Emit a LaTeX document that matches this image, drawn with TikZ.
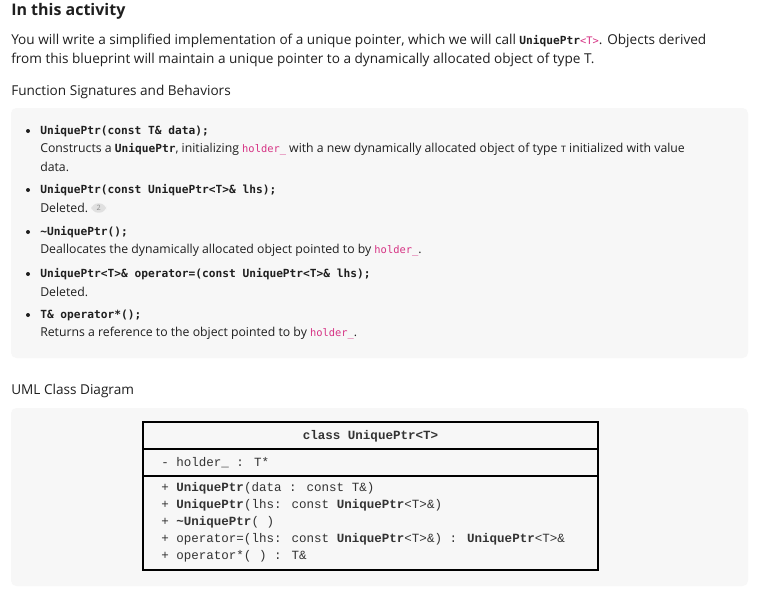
\documentclass[tikz,border=0pt]{standalone}
\usepackage{fontspec}
\setmainfont{Open Sans}
\setmonofont{DejaVu Sans Mono}
\newfontfamily\umlfont{Liberation Mono}
\usetikzlibrary{positioning}
\definecolor{panelgray}{HTML}{F7F7F7}
\definecolor{codepink}{HTML}{D63384}
\definecolor{textdark}{HTML}{1F1F1F}
\newcommand{\cb}[1]{{\ttfamily\bfseries\fontsize{8.4}{10}\selectfont #1}}
\newcommand{\cp}[1]{{\ttfamily\color{codepink}\fontsize{7.8}{9}\selectfont #1}}
\tikzset{
  txt/.style={anchor=west, inner sep=0pt, text=textdark, font=\fontsize{10.2}{12}\selectfont},
  itm/.style={anchor=west, inner sep=0pt, text=textdark, font=\fontsize{9.2}{11}\selectfont},
  uml/.style={anchor=west, inner sep=0pt, text=black!80, font=\umlfont\fontsize{9.4}{11}\selectfont},
  panel/.style={fill=panelgray, draw=none, rounded corners=4pt},
  bullet/.style={circle, fill=textdark, inner sep=0pt, minimum size=3pt}
}
\begin{document}
\begin{tikzpicture}[x=0.75pt, y=-0.75pt]
    \useasboundingbox[fill=white] (0,0) rectangle (774,597);

    % Titles and intro
    \node[txt, font=\bfseries\fontsize{12}{14}\selectfont] (title) at (11,11) {In this activity};
    \node[txt] (intro1) at (11,41) {You will write a simplified implementation of a unique pointer, which we will call \cb{UniquePtr}\cp{<T>}. Objects derived};
    \node[txt] (intro2) at (11,60) {from this blueprint will maintain a unique pointer to a dynamically allocated object of type T.};
    \node[txt] (sigs) at (11,92) {Function Signatures and Behaviors};

    % Panel of signatures
    \fill[panel] (11,108) rectangle (748,358);
    \foreach \y in {131,190,232,274,315}
        \node[bullet] at (28,\y) {};
    \node[itm] (s1) at (40,131) {\cb{UniquePtr(const T\& data);}};
    \node[itm] (d1) at (40,149) {Constructs a \cb{UniquePtr}, initializing \cp{holder\_} with a new dynamically allocated object of type {\ttfamily\fontsize{6.5}{8}\selectfont T} initialized with value};
    \node[itm] (d1b) at (40,167) {data.};
    \node[itm] (s2) at (40,190) {\cb{UniquePtr(const UniquePtr<T>\& lhs);}};
    \node[itm] (d2) at (40,208) {Deleted.};
    \node[fill=black!12, rounded corners=5pt, inner xsep=4pt, inner ysep=1.5pt, text=black!45,
          font=\fontsize{5.5}{6}\selectfont, right=2pt of d2] (badge) {2};
    \node[itm] (s3) at (40,232) {\cb{\textasciitilde UniquePtr();}};
    \node[itm] (d3) at (40,250) {Deallocates the dynamically allocated object pointed to by \cp{holder\_}.};
    \node[itm] (s4) at (40,274) {\cb{UniquePtr<T>\& operator=(const UniquePtr<T>\& lhs);}};
    \node[itm] (d4) at (40,292) {Deleted.};
    \node[itm] (s5) at (40,315) {\cb{T\& operator*();}};
    \node[itm] (d5) at (40,333) {Returns a reference to the object pointed to by \cp{holder\_}.};

    % UML panel
    \node[txt] (umltitle) at (11,391) {UML Class Diagram};
    \fill[panel] (11,408) rectangle (748,586);
    \draw[black, line width=0.8pt] (143,422) rectangle (598,570);
    \draw[black, line width=0.8pt] (143,449) -- (598,449);
    \draw[black, line width=0.8pt] (143,476) -- (598,476);
    \node[uml, anchor=center, font=\umlfont\bfseries\fontsize{9.4}{11}\selectfont] (cls) at (370.5,436) {class UniquePtr<T>};
    \node[uml] (attr) at (161,463) {- holder\_ : T*};
    \node[uml] (m1) at (161,488) {+ \textbf{UniquePtr}(data : const T\&)};
    \node[uml] (m2) at (161,505) {+ \textbf{UniquePtr}(lhs: const \textbf{UniquePtr}<T>\&)};
    \node[uml] (m3) at (161,522) {+ \textbf{\textasciitilde UniquePtr}( )};
    \node[uml] (m4) at (161,539) {+ operator=(lhs: const \textbf{UniquePtr}<T>\&) : \textbf{UniquePtr}<T>\&};
    \node[uml] (m5) at (161,556) {+ operator*( ) : T\&};
\end{tikzpicture}
\end{document}
